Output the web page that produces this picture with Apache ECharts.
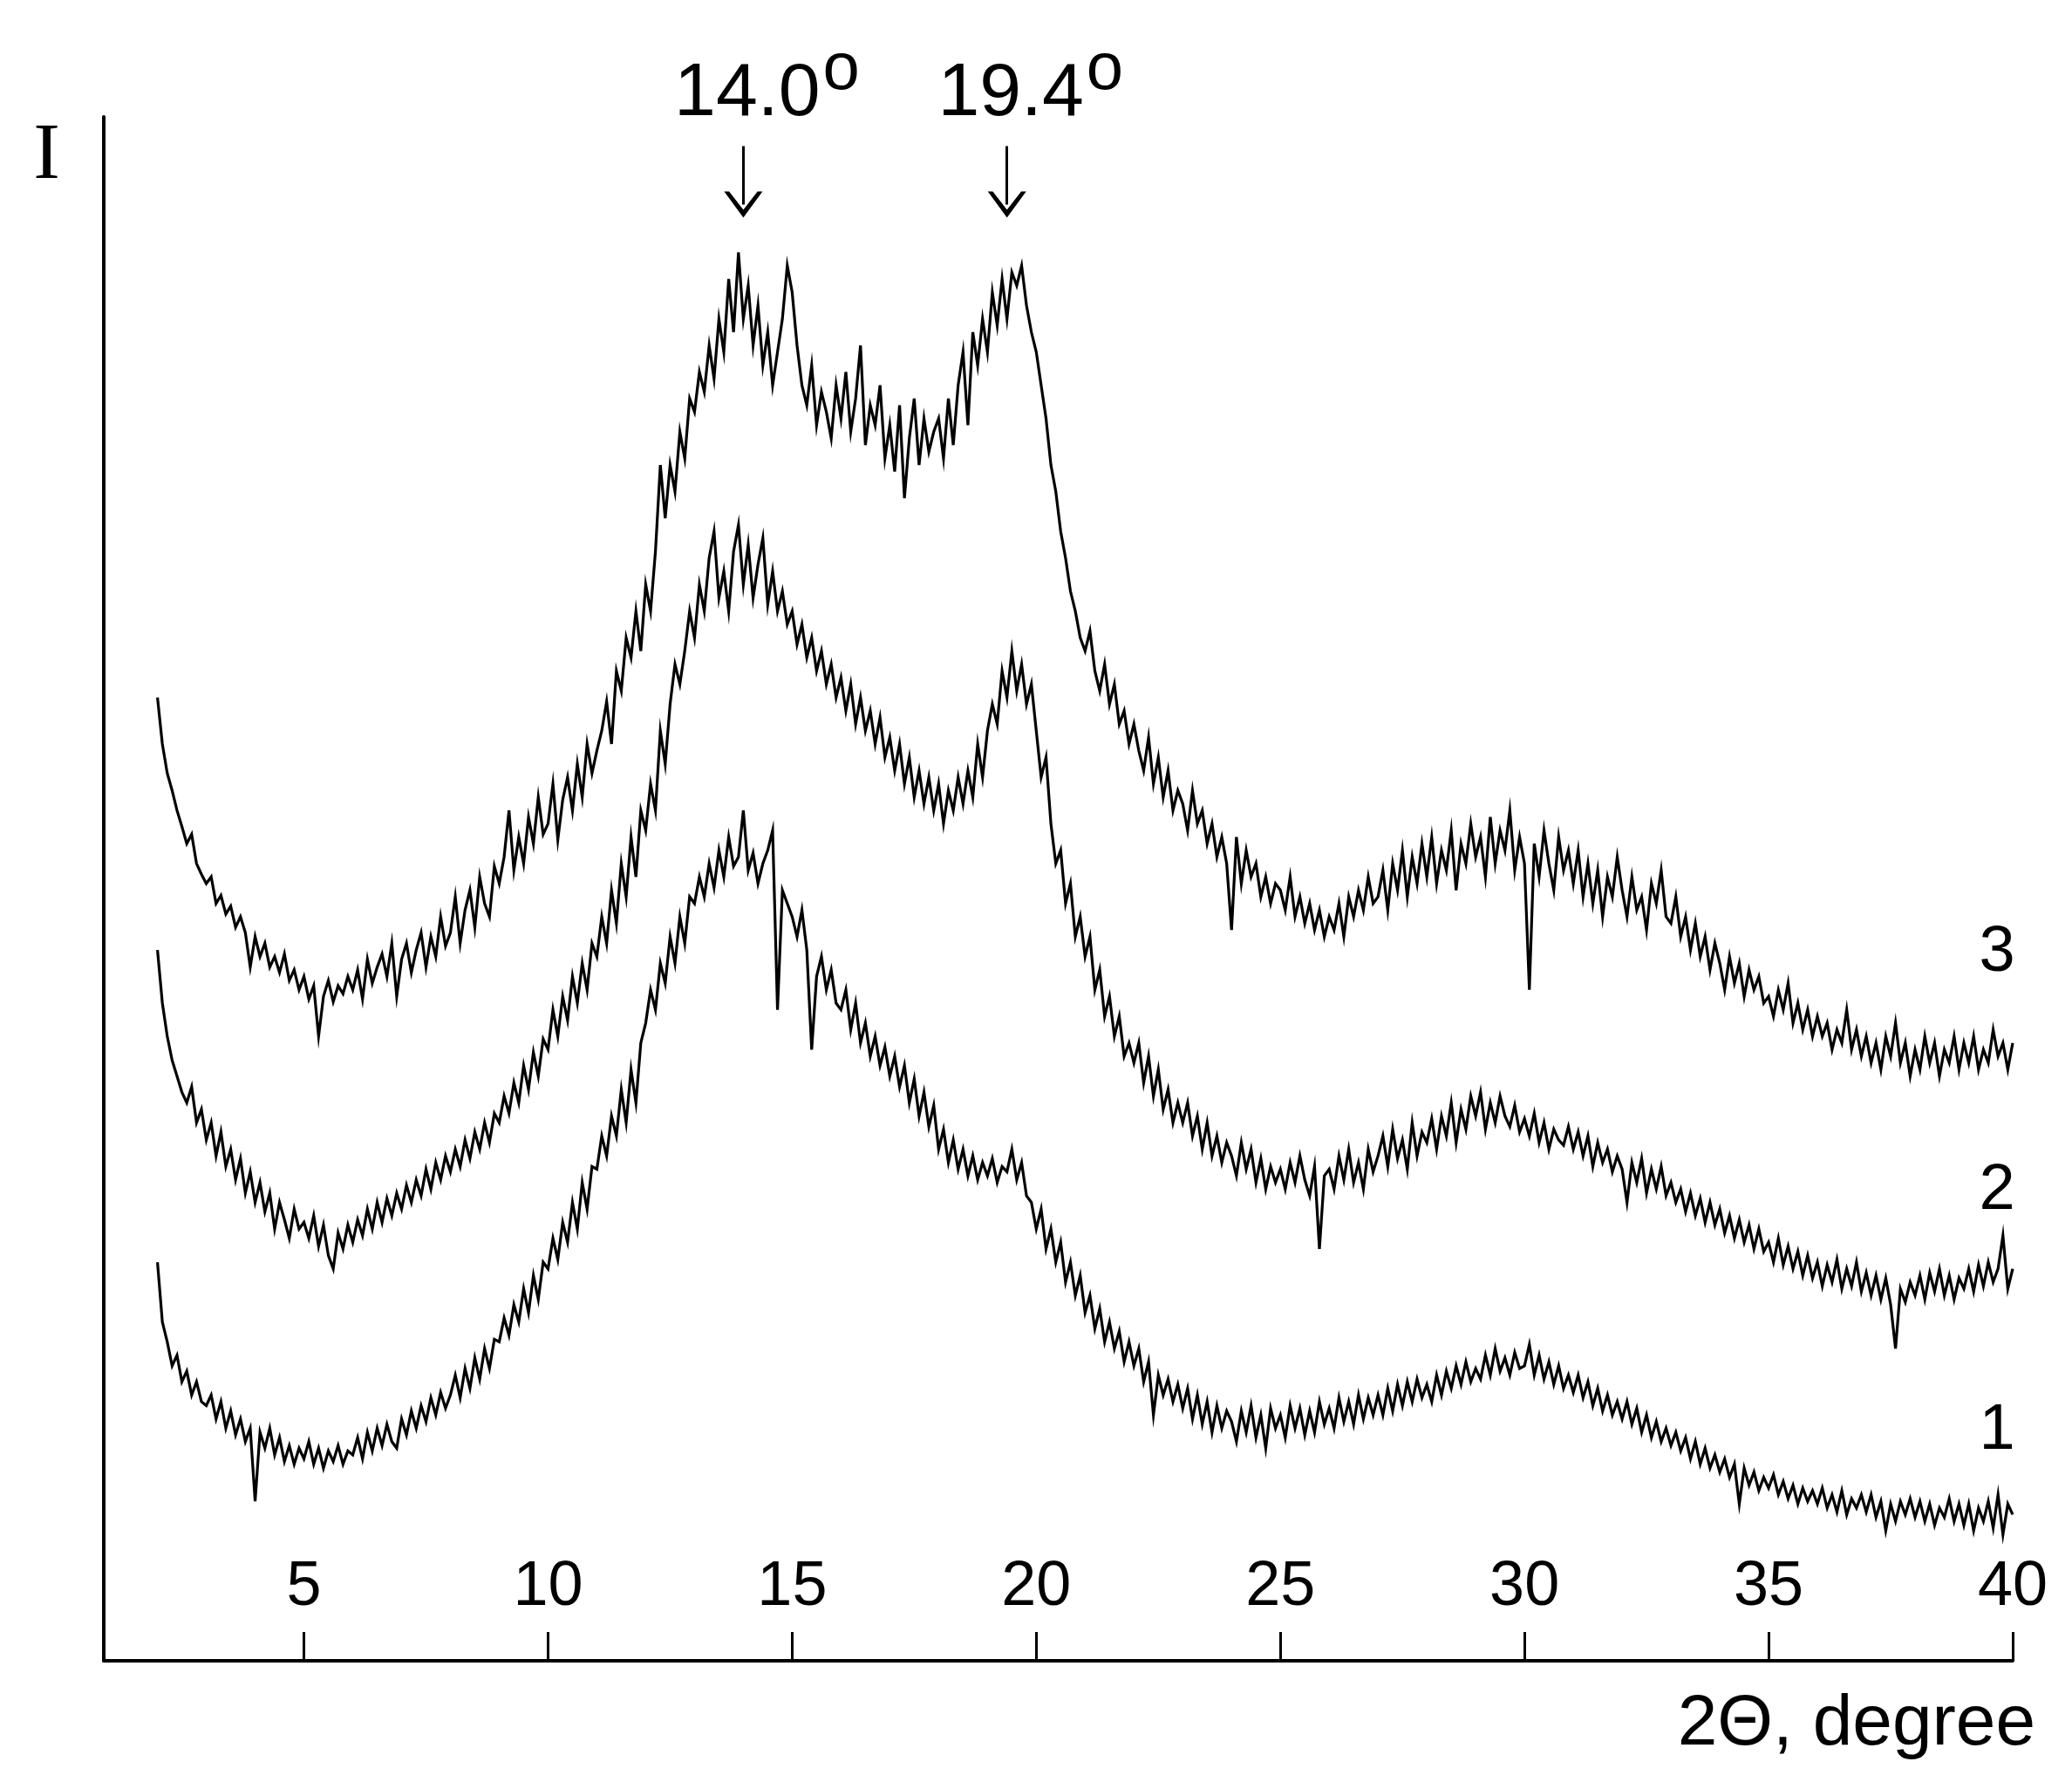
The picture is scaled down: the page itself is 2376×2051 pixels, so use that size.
<!DOCTYPE html>
<html>
<head>
<meta charset="utf-8">
<script src="https://cdn.jsdelivr.net/npm/echarts@6/dist/echarts.min.js"></script>
<style>
html,body{margin:0;padding:0;background:#fff;}
#chart{width:2376px;height:2051px;}
</style>
</head>
<body>
<div id="chart"></div>
<script>
// 2-theta sampling grid (degrees), 2.0 .. 40.0 step 0.1
const twoTheta = [];
for (let i = 0; i <= 380; i++) twoTheta.push(Math.round((2 + i * 0.1) * 10) / 10);

const xTicks = [5, 10, 15, 20, 25, 30, 35, 40];
const seriesNames = ['1', '2', '3'];
const peakPositions = [14.0, 19.4];
const peakLabels = ['14.0', '19.4'];

// intensity (arbitrary units), curve 1 (bottom)
const curve1 = [
300,255,240,222,230,210,218,200,210,195,
192,200,182,195,175,188,170,182,165,175,
120,172,160,175,155,168,150,162,148,160,
152,165,148,160,145,158,150,162,148,158,
155,168,152,172,158,175,162,178,165,160,
182,170,188,175,192,180,198,185,202,190,
200,215,198,220,205,228,212,235,220,242,
240,258,245,268,255,280,262,290,272,300,
295,318,302,330,315,345,325,360,340,372,
370,395,380,410,395,430,405,445,420,465,
480,505,490,525,510,545,525,560,540,575,
570,590,575,600,582,610,590,620,598,605,
640,595,608,585,600,610,625,490,580,570,
560,545,565,535,460,515,530,505,520,495,
490,505,475,495,465,480,455,470,448,462,
440,455,432,448,420,438,410,428,402,418,
385,400,375,392,370,385,365,380,362,375,
365,378,360,372,368,385,362,375,350,345,
325,340,310,325,300,315,285,300,275,290,
262,275,250,265,240,255,235,248,225,240,
222,235,210,225,185,215,200,212,195,208,
190,205,182,200,178,195,172,192,175,188,
180,165,188,172,192,168,185,160,190,175,
185,168,192,175,190,170,188,172,195,178,
190,175,198,180,195,178,200,182,198,185,
200,185,205,188,208,192,210,195,212,198,
208,195,215,200,218,205,222,208,225,210,
220,212,230,215,235,218,228,215,232,220,
222,238,215,230,212,225,208,222,205,215,
202,215,198,210,192,205,188,200,185,195,
182,195,178,190,172,185,168,180,165,175,
162,172,158,168,152,165,148,160,145,155,
142,152,138,148,118,145,132,142,128,138,
130,140,125,135,122,132,118,130,120,128,
118,130,115,125,112,128,110,122,115,125,
112,125,108,120,98,118,105,120,110,122,
108,120,105,118,102,115,108,122,105,118,
102,118,98,115,105,120,100,125,95,118,
110
];

// curve 2 (middle)
const curve2 = [
535,495,470,452,440,428,420,432,405,415,
392,405,380,398,372,385,362,378,352,368,
345,360,338,352,325,345,332,318,340,325,
330,318,335,312,328,305,295,322,310,328,
315,332,320,340,325,345,330,348,335,352,
340,358,345,362,350,370,355,375,362,380,
368,385,372,392,378,398,385,405,390,412,
405,425,412,435,420,448,430,458,440,468,
460,490,470,500,482,515,495,525,505,540,
530,560,540,580,555,600,575,620,590,640,
625,660,640,700,675,720,750,735,760,790,
770,810,790,830,850,800,820,790,835,855,
810,840,800,825,845,795,820,790,805,780,
790,765,780,755,770,745,760,735,750,725,
740,715,735,705,725,700,715,690,710,680,
695,670,690,660,680,650,670,645,665,640,
660,630,655,640,665,645,670,650,690,665,
700,720,705,745,725,760,730,750,720,735,
700,665,680,630,600,610,570,585,545,560,
530,545,505,520,485,500,470,485,455,465,
450,465,435,455,425,445,415,430,405,420,
405,420,395,410,385,405,380,395,375,390,
380,365,390,370,385,360,378,355,372,360,
370,355,375,360,380,362,350,372,310,365,
370,355,380,362,385,360,375,355,385,368,
380,395,372,400,378,392,370,405,380,398,
390,408,385,410,395,420,390,415,400,425,
410,428,400,420,405,425,410,402,418,398,
408,395,412,390,405,385,400,392,388,402,
385,398,380,395,372,390,375,385,368,380,
370,345,375,360,378,352,370,355,372,350,
360,345,355,338,352,335,348,330,345,328,
340,322,335,318,332,315,328,310,325,308,
315,300,318,298,312,295,308,290,305,288,
300,282,298,285,302,280,295,282,300,278,
292,275,290,272,288,268,235,280,270,285,
275,290,272,292,278,295,275,290,272,288,
280,295,278,298,282,300,285,295,320,280,
295
];

// curve 3 (top)
const curve3 = [
725,690,668,655,640,628,615,622,600,592,
585,590,570,576,562,568,552,560,548,522,
545,530,540,522,530,518,532,512,520,505,
515,498,508,470,500,512,496,508,502,515,
505,520,498,528,510,522,532,515,540,500,
528,540,518,535,548,522,545,530,560,538,
548,575,540,565,580,552,590,570,560,598,
585,605,640,595,620,600,635,615,650,622,
630,660,618,648,665,640,675,650,690,668,
685,700,722,690,745,730,770,755,790,760,
810,790,835,900,860,900,880,925,905,950,
940,970,955,990,965,1010,985,1040,1000,1060,
1010,1035,990,1020,975,1000,960,985,1010,1050,
1030,990,960,945,975,930,955,940,920,960,
935,970,925,950,990,915,945,930,960,905,
930,895,945,875,920,950,900,935,910,925,
935,905,950,915,960,985,930,1000,975,1010,
985,1030,1005,1040,1010,1045,1035,1050,1020,1000,
985,960,935,900,880,850,830,805,790,770,
760,775,745,730,750,720,735,705,715,690,
705,685,670,695,660,680,650,670,640,655,
645,625,655,630,640,615,630,605,620,600,
550,620,585,610,590,600,575,590,570,585,
580,565,590,560,575,555,570,550,565,545,
560,550,570,545,575,560,580,565,590,570,
575,595,565,600,580,610,575,605,585,615,
590,620,585,610,595,625,580,615,600,630,
605,620,590,635,600,625,610,640,595,620,
600,505,615,590,625,600,580,620,595,610,
585,610,575,600,570,595,560,590,575,605,
580,560,590,565,575,550,585,570,595,560,
555,575,545,560,535,555,530,545,520,540,
525,505,530,510,525,500,520,505,515,495,
500,485,505,490,510,480,495,475,490,470,
485,470,480,460,475,465,490,460,475,455,
470,450,465,445,470,455,480,450,465,440,
460,445,470,450,465,440,460,450,470,445,
465,450,470,445,460,450,475,455,465,445,
465
];

const curves = [curve1, curve2, curve3];
const endOffsets = [[-18, -96], [-18, -89], [-18, -103]];

const chart = echarts.init(document.getElementById('chart'), null, {renderer: 'canvas'});

const series = curves.map((c, k) => {
  const s = {
    name: seriesNames[k],
    type: 'line',
    data: twoTheta.map((x, i) => [x, c[i]]),
    showSymbol: false,
    symbol: 'none',
    silent: true,
    lineStyle: {color: '#000', width: 3.2, join: 'miter'},
    endLabel: {
      show: true,
      formatter: seriesNames[k],
      color: '#000',
      fontFamily: 'Liberation Sans',
      fontSize: 74,
      align: 'center',
      verticalAlign: 'middle',
      distance: 0,
      offset: endOffsets[k]
    }
  };
  if (k === 2) {
    s.markLine = {
      silent: true,
      animation: false,
      symbol: ['none', 'path://M10,0 L20,12 L17.4,12 L10,3.6 L2.6,12 L0,12 Z'],
      symbolSize: [44, 30],
      lineStyle: {color: '#000', width: 3, type: 'solid'},
      label: {
        show: true,
        position: 'start',
        distance: -6,
        formatter: '{b}{o|o}',
        color: '#000',
        fontFamily: 'Liberation Sans',
        fontSize: 86,
        padding: [0, 0, 0, 54],
        rich: {
          o: {fontFamily: 'Liberation Sans', fontSize: 76, color: '#000', verticalAlign: 'top', padding: [0, 0, 54, 3]}
        }
      },
      data: peakPositions.map((p, i) => [
        {coord: [p, 1140], name: peakLabels[i]},
        {coord: [p, 1096]}
      ])
    };
  }
  return s;
});

chart.setOption({
  animation: false,
  backgroundColor: '#fff',
  grid: {left: 119, right: 68, top: 134, bottom: 147, containLabel: false, outerBoundsMode: 'none'},
  xAxis: {
    type: 'value',
    min: 0.9,
    max: 40,
    name: '2\u0398, degree',
    nameLocation: 'end',
    nameGap: 26,
    nameTextStyle: {color: '#000', fontFamily: 'Liberation Sans', fontSize: 82, align: 'right', verticalAlign: 'top', padding: [32, 0, 0, 0]},
    axisLine: {show: true, lineStyle: {color: '#000', width: 4}},
    axisTick: {show: true, inside: true, length: 33, lineStyle: {color: '#000', width: 3}, customValues: xTicks},
    axisLabel: {show: true, inside: true, margin: 48, color: '#000', fontFamily: 'Liberation Sans', fontSize: 72, customValues: xTicks},
    splitLine: {show: false}
  },
  yAxis: {
    type: 'value',
    min: 0,
    max: 1162,
    name: 'I',
    nameLocation: 'end',
    nameGap: 0,
    nameTextStyle: {color: '#000', fontFamily: 'Liberation Serif', fontSize: 92, align: 'right', verticalAlign: 'top', padding: [0, 50, 0, 0]},
    axisLine: {show: true, onZero: false, lineStyle: {color: '#000', width: 4}},
    axisTick: {show: false},
    axisLabel: {show: false},
    splitLine: {show: false}
  },
  series: series
});
</script>
</body>
</html>
